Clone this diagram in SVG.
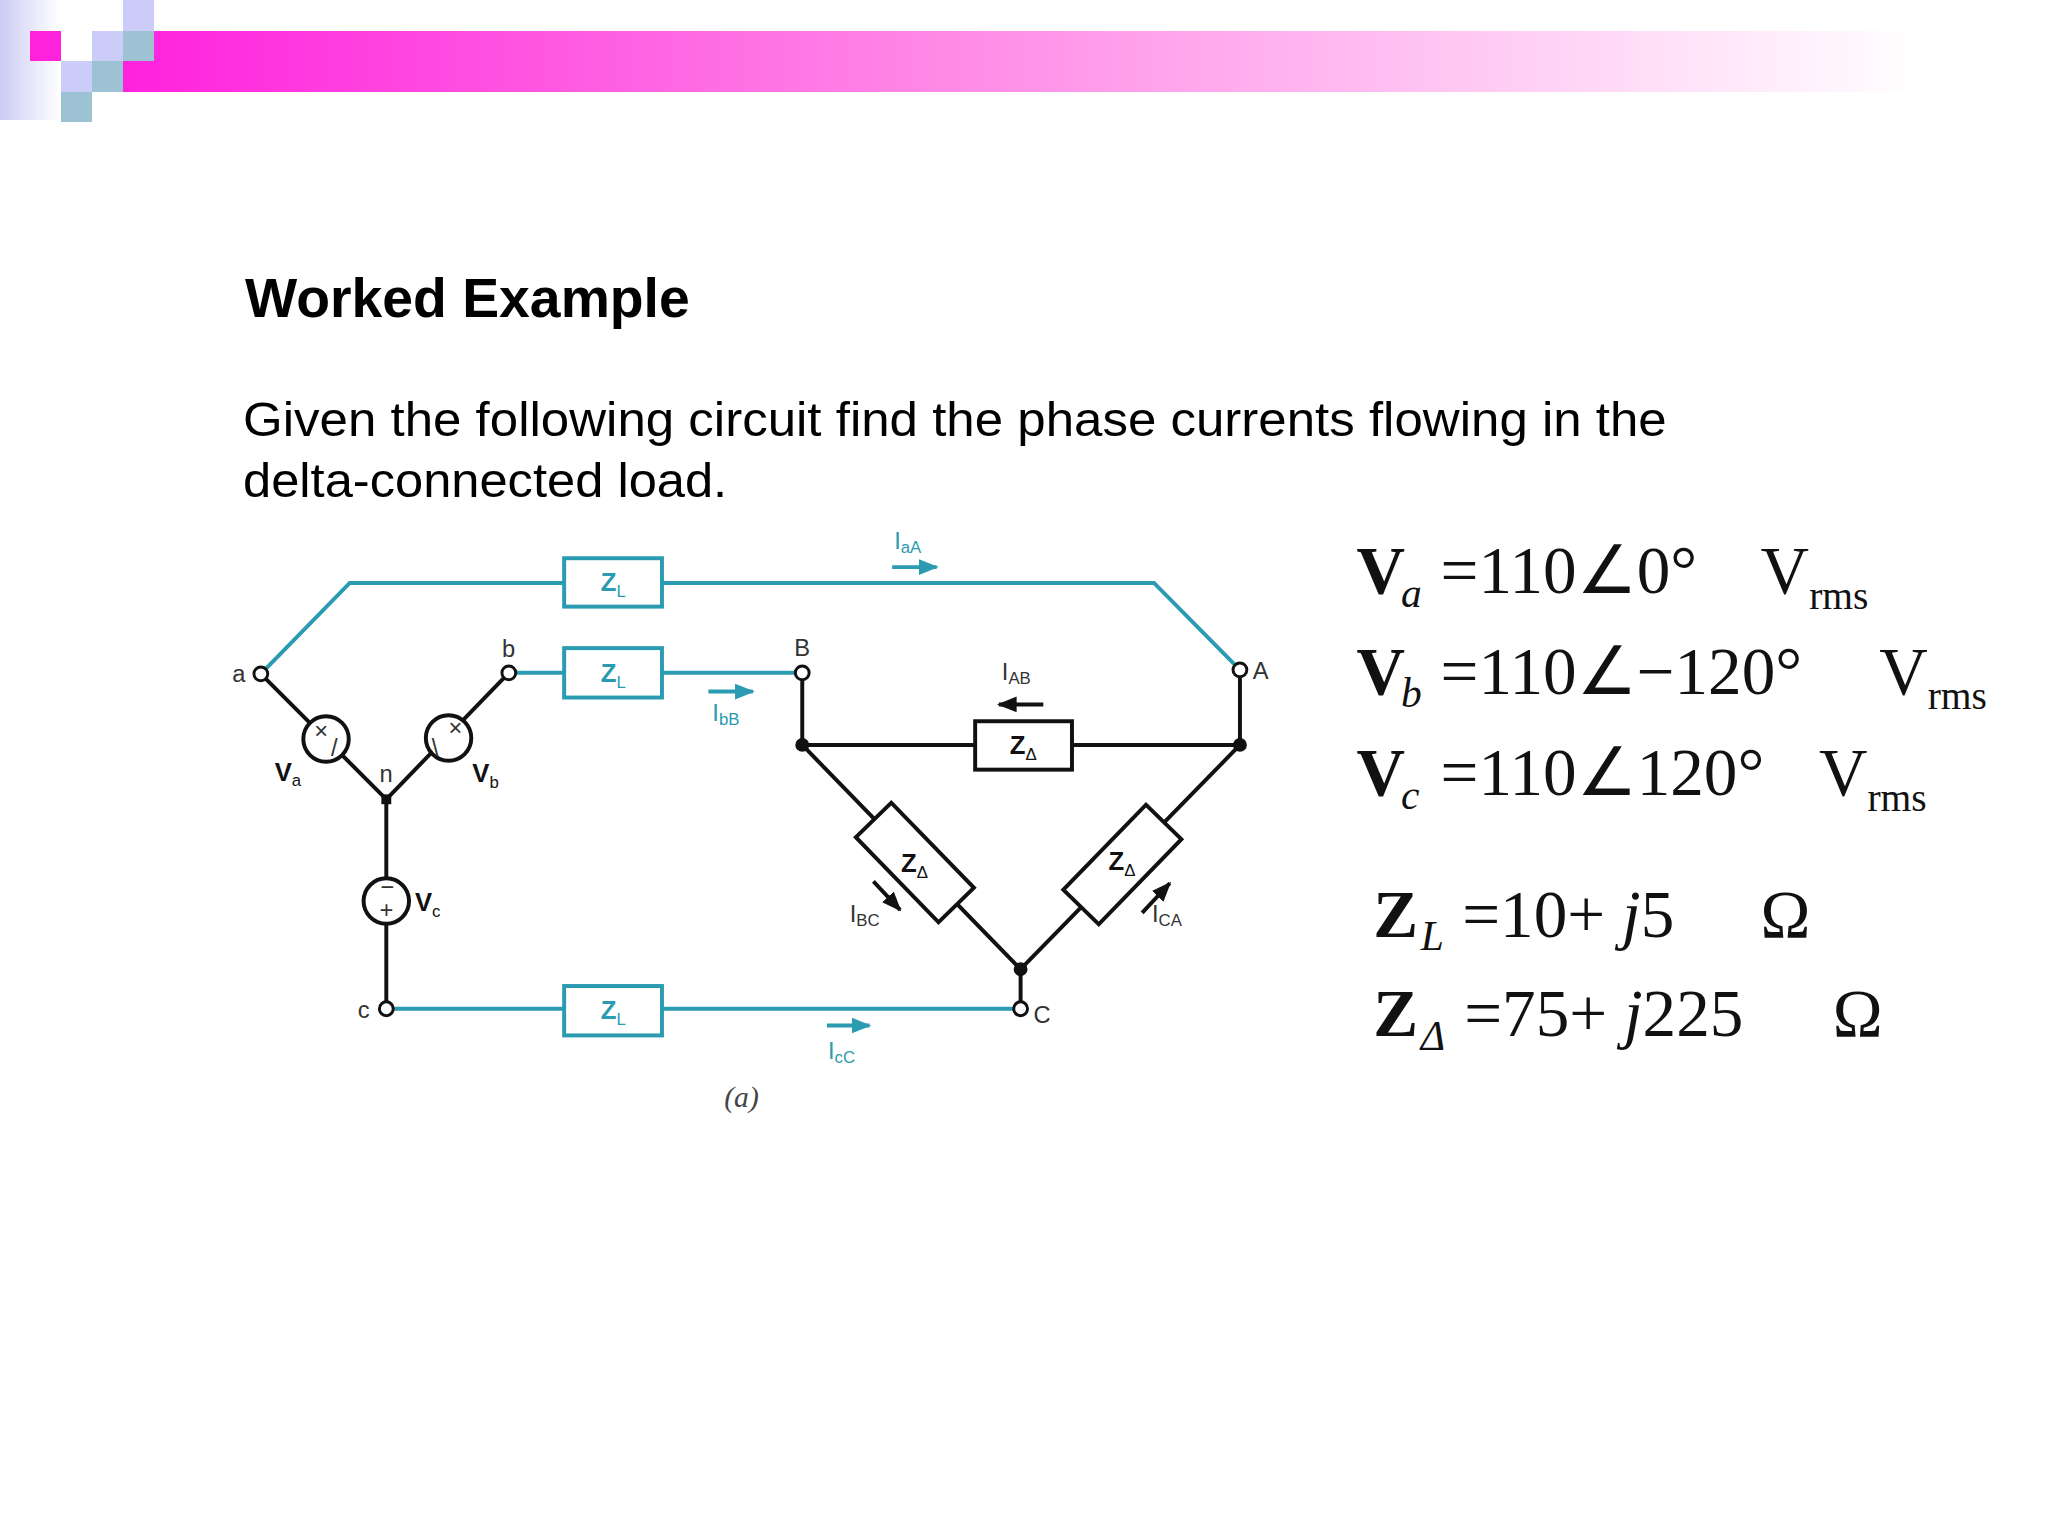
<svg xmlns="http://www.w3.org/2000/svg" width="2048" height="1536" viewBox="0 0 2048 1536">
<defs>
<linearGradient id="bar" x1="0" y1="0" x2="1" y2="0"><stop offset="0" stop-color="#ff22dd"/><stop offset="0.45" stop-color="#ff88e6"/><stop offset="1" stop-color="#ffffff"/></linearGradient>
<linearGradient id="side" x1="0" y1="0" x2="1" y2="0"><stop offset="0" stop-color="#ccccf5"/><stop offset="1" stop-color="#ffffff"/></linearGradient>
<marker id="ta" viewBox="0 0 10 10" refX="9" refY="5" markerWidth="5" markerHeight="5" orient="auto"><path d="M0,1 L10,5 L0,9 Z" fill="#2a9bb0"/></marker>
<marker id="ka" viewBox="0 0 10 10" refX="9" refY="5" markerWidth="5" markerHeight="5" orient="auto"><path d="M0,1 L10,5 L0,9 Z" fill="#111"/></marker>
</defs>
<style>
.t{stroke:#2a9bb0;stroke-width:4;fill:none}
.k{stroke:#111;stroke-width:4;fill:none}
.tb{stroke:#2a9bb0;stroke-width:4;fill:#fff}
.kb{stroke:#111;stroke-width:4;fill:#fff}
.term{stroke:#111;stroke-width:3;fill:#fff}
.dot{fill:#111}
.lb{font-family:"Liberation Sans",Arial,sans-serif;font-size:24px;fill:#333}
.lt{font-family:"Liberation Sans",Arial,sans-serif;font-size:24px;fill:#2a9bb0}
.zt{font-family:"Liberation Sans",Arial,sans-serif;font-size:26px;font-weight:bold;fill:#2a9bb0}
.zk{font-family:"Liberation Sans",Arial,sans-serif;font-size:26px;font-weight:bold;fill:#111}
.sub{font-size:17px;font-weight:normal}
.eq{font-family:"Liberation Serif","Times New Roman",serif;font-size:68px;fill:#111}
.eb{font-weight:bold}
.es{font-size:42px;font-style:italic}
.er{font-size:40px}
</style>
<rect width="2048" height="1536" fill="#fff"/>
<g id="header">
<rect x="0" y="0" width="60" height="120" fill="url(#side)"/>
<rect x="123" y="31" width="1800" height="61" fill="url(#bar)"/>
<rect x="30" y="31" width="31" height="30" fill="#ff22dd"/>
<rect x="123" y="0" width="31" height="31" fill="#ccccf8"/>
<rect x="92" y="31" width="31" height="30" fill="#ccccf8"/>
<rect x="123" y="31" width="31" height="30" fill="#9cc2d4"/>
<rect x="61" y="61" width="31" height="31" fill="#ccccf8"/>
<rect x="92" y="61" width="31" height="31" fill="#9cc2d4"/>
<rect x="61" y="92" width="31" height="30" fill="#9cc2d4"/>
</g>
<g transform="scale(0.988)">
<g id="title"><text x="248" y="321" font-family="Liberation Sans,Arial,sans-serif" font-size="56" font-weight="bold" fill="#000">Worked Example</text></g>
<g id="body" font-family="Liberation Sans,Arial,sans-serif" font-size="48" fill="#000">
<text x="246" y="441" textLength="1441" lengthAdjust="spacingAndGlyphs">Given the following circuit find the phase currents flowing in the</text>
<text x="246" y="503" textLength="490" lengthAdjust="spacingAndGlyphs">delta-connected load.</text>
</g>
<g id="connectors">
<polyline class="t" points="264,682 354,590 571,590"/>
<polyline class="t" points="670,590 1168,590 1255,678"/>
<line class="t" x1="515" y1="681" x2="571" y2="681"/>
<line class="t" x1="670" y1="681" x2="812" y2="681"/>
<line class="t" x1="391" y1="1021" x2="571" y2="1021"/>
<line class="t" x1="670" y1="1021" x2="1033" y2="1021"/>
<line class="k" x1="264" y1="682" x2="391" y2="809"/>
<line class="k" x1="515" y1="681" x2="391" y2="809"/>
<line class="k" x1="391" y1="809" x2="391" y2="1021"/>
<line class="k" x1="812" y1="681" x2="812" y2="754"/>
<line class="k" x1="1255" y1="678" x2="1255" y2="754"/>
<line class="k" x1="812" y1="754" x2="1255" y2="754"/>
<line class="k" x1="812" y1="754" x2="1033" y2="981"/>
<line class="k" x1="1255" y1="754" x2="1033" y2="981"/>
<line class="k" x1="1033" y1="981" x2="1033" y2="1021"/>
<line class="t" x1="903" y1="574" x2="948" y2="574" stroke-width="3" marker-end="url(#ta)"/>
<line class="t" x1="717" y1="700" x2="762" y2="700" stroke-width="3" marker-end="url(#ta)"/>
<line class="t" x1="837" y1="1038" x2="880" y2="1038" stroke-width="3" marker-end="url(#ta)"/>
<line class="k" x1="1056" y1="713" x2="1011" y2="713" stroke-width="3" marker-end="url(#ka)"/>
<line class="k" x1="884" y1="892" x2="911" y2="921" stroke-width="3" marker-end="url(#ka)"/>
<line class="k" x1="1156" y1="924" x2="1184" y2="894" stroke-width="3" marker-end="url(#ka)"/>
</g>
<g id="source-a"><circle class="kb" cx="330" cy="748" r="23"/><text x="318" y="748" class="lb" font-size="16">×</text><text x="335" y="765" class="lb" font-size="16">/</text><text x="278" y="790" class="zk">V<tspan class="sub" dy="6">a</tspan></text></g>
<g id="source-b"><circle class="kb" cx="454" cy="747" r="23"/><text x="454" y="745" class="lb" font-size="16">×</text><text x="437" y="765" class="lb" font-size="16">\</text><text x="478" y="792" class="zk">V<tspan class="sub" dy="6">b</tspan></text></g>
<g id="source-c"><circle class="kb" cx="391" cy="912" r="23"/><text x="385" y="906" class="lb" font-size="18">−</text><text x="384" y="929" class="lb" font-size="18">+</text><text x="420" y="922" class="zk">V<tspan class="sub" dy="6">c</tspan></text></g>
<g id="node-n"><rect class="dot" x="386" y="804" width="10" height="10"/><text x="384" y="792" class="lb">n</text></g>
<g id="node-a"><circle class="term" cx="264" cy="682" r="7"/><text x="235" y="690" class="lb">a</text></g>
<g id="node-b"><circle class="term" cx="515" cy="681" r="7"/><text x="508" y="665" class="lb">b</text></g>
<g id="node-c"><circle class="term" cx="391" cy="1021" r="7"/><text x="362" y="1030" class="lb">c</text></g>
<g id="node-B"><circle class="term" cx="812" cy="681" r="7"/><text x="804" y="664" class="lb">B</text></g>
<g id="node-A"><circle class="term" cx="1255" cy="678" r="7"/><text x="1268" y="687" class="lb">A</text></g>
<g id="node-C"><circle class="term" cx="1033" cy="1021" r="7"/><text x="1046" y="1035" class="lb">C</text></g>
<g id="dots"><circle class="dot" cx="812" cy="754" r="7"/><circle class="dot" cx="1255" cy="754" r="7"/><circle class="dot" cx="1033" cy="981" r="7"/></g>
<g id="zl1"><rect class="tb" x="571" y="565" width="99" height="49"/><text x="608" y="598" class="zt">Z<tspan class="sub" dy="6">L</tspan></text></g>
<g id="zl2"><rect class="tb" x="571" y="656" width="99" height="50"/><text x="608" y="690" class="zt">Z<tspan class="sub" dy="6">L</tspan></text></g>
<g id="zl3"><rect class="tb" x="571" y="998" width="99" height="50"/><text x="608" y="1031" class="zt">Z<tspan class="sub" dy="6">L</tspan></text></g>
<g id="zab"><rect class="kb" x="987" y="730" width="98" height="49"/><text x="1022" y="763" class="zk">Z<tspan class="sub" dy="6">Δ</tspan></text></g>
<g id="zbc" transform="translate(926,873) rotate(45.8)"><rect class="kb" x="-60" y="-25" width="120" height="50"/><text transform="rotate(-45.8)" x="-14" y="10" class="zk">Z<tspan class="sub" dy="6">Δ</tspan></text></g>
<g id="zca" transform="translate(1136,875) rotate(-45.8)"><rect class="kb" x="-60" y="-25" width="120" height="50"/><text transform="rotate(45.8)" x="-14" y="6" class="zk">Z<tspan class="sub" dy="6">Δ</tspan></text></g>
<g id="labels">
<text x="905" y="556" class="lt">I<tspan class="sub" dy="4">aA</tspan></text>
<text x="721" y="730" class="lt">I<tspan class="sub" dy="4">bB</tspan></text>
<text x="838" y="1072" class="lt">I<tspan class="sub" dy="4">cC</tspan></text>
<text x="1014" y="688" class="lb" fill="#111">I<tspan class="sub" dy="4">AB</tspan></text>
<text x="860" y="933" class="lb">I<tspan class="sub" dy="4">BC</tspan></text>
<text x="1166" y="933" class="lb">I<tspan class="sub" dy="4">CA</tspan></text>
<text x="733" y="1120" font-family="Liberation Serif,serif" font-style="italic" font-size="30" fill="#444">(a)</text>
</g>
<g id="equations" class="eq">
<text x="1373" y="600"><tspan class="eb">V</tspan><tspan class="es" x="1418" y="614">a</tspan><tspan x="1458" y="600">=110∠0°</tspan><tspan x="1782">V</tspan><tspan class="er" y="616">rms</tspan></text>
<text x="1373" y="702"><tspan class="eb">V</tspan><tspan class="es" x="1418" y="716">b</tspan><tspan x="1458" y="702">=110∠−120°</tspan><tspan x="1902">V</tspan><tspan class="er" y="718">rms</tspan></text>
<text x="1373" y="805"><tspan class="eb">V</tspan><tspan class="es" x="1418" y="819">c</tspan><tspan x="1458" y="805">=110∠120°</tspan><tspan x="1841">V</tspan><tspan class="er" y="821">rms</tspan></text>
<text x="1390" y="948"><tspan class="eb">Z</tspan><tspan class="es" x="1438" y="962">L</tspan><tspan x="1480" y="948">=10+ </tspan><tspan font-style="italic">j</tspan><tspan>5</tspan><tspan x="1782">Ω</tspan></text>
<text x="1390" y="1049"><tspan class="eb">Z</tspan><tspan class="es" x="1438" y="1063" font-style="normal">Δ</tspan><tspan x="1482" y="1049">=75+ </tspan><tspan font-style="italic">j</tspan><tspan>225</tspan><tspan x="1855">Ω</tspan></text>
</g>
</g>
</svg>
